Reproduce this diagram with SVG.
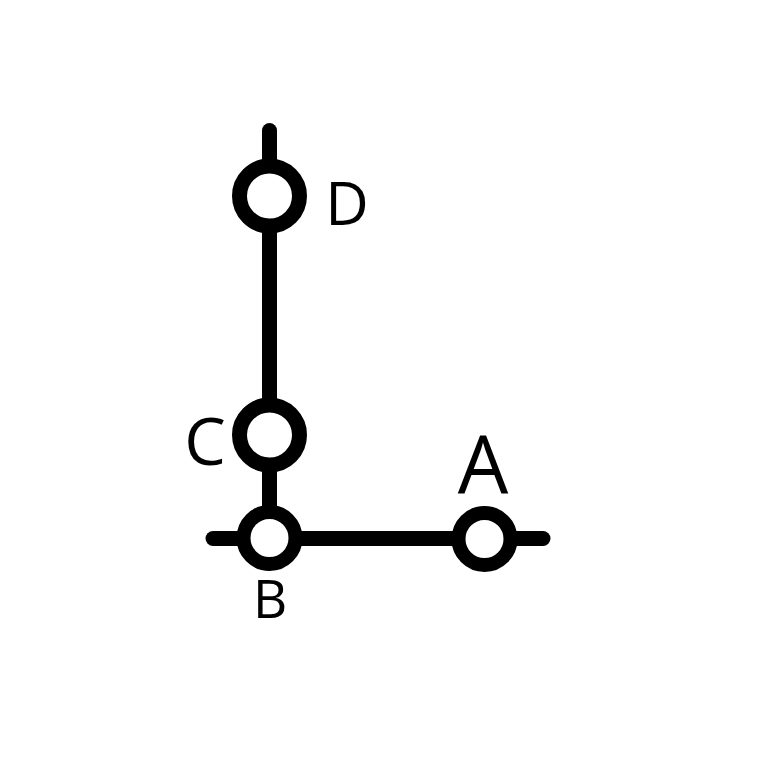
<svg xmlns="http://www.w3.org/2000/svg" width="768" height="768" viewBox="0 0 768 768">
<style>
.line{stroke:#000;stroke-width:15;stroke-linecap:round;fill:none}
.big{fill:#fff;stroke:#000;stroke-width:15}
.small{fill:#fff;stroke:#000;stroke-width:14}
.lbl{font-family:"Open Sans","Liberation Sans",sans-serif;fill:#000;text-anchor:middle}
</style>
<rect width="768" height="768" fill="#fff"/>
<g id="connectors">
<line class="line" x1="269.5" y1="130.5" x2="269.5" y2="538.5"/>
<line class="line" x1="213" y1="538.5" x2="543" y2="538.5"/>
</g>
<g id="node-D">
<circle class="big" cx="269.5" cy="196" r="30"/>
<text class="lbl" x="347" y="225" font-size="60">D</text>
</g>
<g id="node-C">
<circle class="big" cx="269.5" cy="435" r="30"/>
<text class="lbl" x="205" y="465" font-size="66">C</text>
</g>
<g id="node-B">
<circle class="small" cx="269.5" cy="538" r="26"/>
<text class="lbl" x="270" y="618" font-size="53">B</text>
</g>
<g id="node-A">
<circle class="small" cx="484.5" cy="539" r="26"/>
<text class="lbl" x="483" y="493" font-size="80">A</text>
</g>
</svg>
